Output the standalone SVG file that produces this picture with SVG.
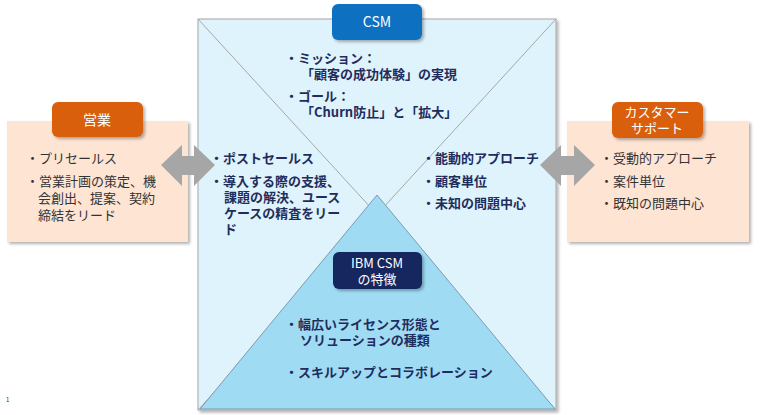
<svg xmlns="http://www.w3.org/2000/svg" width="768" height="415" viewBox="0 0 768 415">
<defs>
<filter id="sh" x="-10%" y="-10%" width="130%" height="130%"><feDropShadow dx="2" dy="2" stdDeviation="1.5" flood-color="#000" flood-opacity="0.3"/></filter>
<style>
text{font-family:"Noto Sans CJK JP","Noto Sans",sans-serif;font-size:13px}
.b{font-weight:bold;fill:#1f2d5c}
.n{fill:#333}
.tab{font-size:14px;fill:#fff;text-anchor:middle}
.tab2{font-size:13px;fill:#fff;text-anchor:middle}
</style>
</defs>
<rect width="768" height="415" fill="#fff"/>
<g id="csm-area">
<rect x="198" y="19" width="358" height="391" fill="#dff3fc" stroke="#a6a6a6" filter="url(#sh)"/>
<line x1="198" y1="19" x2="556" y2="410" stroke="#a6a6a6"/>
<line x1="556" y1="19" x2="198" y2="410" stroke="#a6a6a6"/>
<polygon points="377,195 200,409 555,409" fill="#9fdcf4" stroke="#7f98b0"/>
</g>
<g id="sales">
<rect x="7" y="121" width="181" height="121" fill="#fde4d3" filter="url(#sh)"/>
<rect x="52" y="102" width="91" height="35" rx="6" fill="#d95f0a" filter="url(#sh)"/>
<text class="tab" x="97" y="125">営業</text>
<text class="n" x="26" y="163">・プリセールス</text>
<text class="n" x="26" y="186">・営業計画の策定、機</text>
<text class="n" x="38" y="203">会創出、提案、契約</text>
<text class="n" x="38" y="220">締結をリード</text>
</g>
<g id="support">
<rect x="567" y="121" width="182" height="121" fill="#fde4d3" filter="url(#sh)"/>
<rect x="612" y="102" width="91" height="36" rx="6" fill="#d95f0a" filter="url(#sh)"/>
<text class="tab2" x="657" y="117">カスタマー</text>
<text class="tab2" x="657" y="133">サポート</text>
<text class="n" x="600" y="163">・受動的アプローチ</text>
<text class="n" x="600" y="186">・案件単位</text>
<text class="n" x="600" y="208">・既知の問題中心</text>
</g>
<g id="csm">
<rect x="332" y="4" width="90" height="36" rx="6" fill="#0a70c0" filter="url(#sh)"/>
<text class="tab" x="377" y="27">CSM</text>
<text class="b" x="285" y="63">・ミッション：</text>
<text class="b" x="301" y="79">「顧客の成功体験」の実現</text>
<text class="b" x="285" y="101">・ゴール：</text>
<text class="b" x="301" y="117">「Churn防止」と「拡大」</text>
<text class="b" x="210" y="163">・ポストセールス</text>
<text class="b" x="210" y="186">・導入する際の支援、</text>
<text class="b" x="224" y="202">課題の解決、ユース</text>
<text class="b" x="224" y="218">ケースの精査をリー</text>
<text class="b" x="224" y="234">ド</text>
<text class="b" x="422" y="163">・能動的アプローチ</text>
<text class="b" x="422" y="186">・顧客単位</text>
<text class="b" x="422" y="208">・未知の問題中心</text>
</g>
<g id="ibm">
<rect x="333" y="252" width="89" height="37" rx="6" fill="#13275e" filter="url(#sh)"/>
<text class="tab2" x="377" y="268">IBM CSM</text>
<text class="tab2" x="377" y="284">の特徴</text>
<text class="b" x="285" y="329">・幅広いライセンス形態と</text>
<text class="b" x="300" y="345">ソリューションの種類</text>
<text class="b" x="285" y="377">・スキルアップとコラボレーション</text>
</g>
<g id="connectors">
<polygon points="161,165 182,145 182,156 194,156 194,145 215,165 194,186 194,175 182,175 182,186" fill="#a6a6a6"/>
<polygon points="540,165 561,145 561,156 574,156 574,145 595,165 574,186 574,175 561,175 561,186" fill="#a6a6a6"/>
</g>
<text x="6" y="402" style="font-size:6px" fill="#333">1</text>
</svg>
